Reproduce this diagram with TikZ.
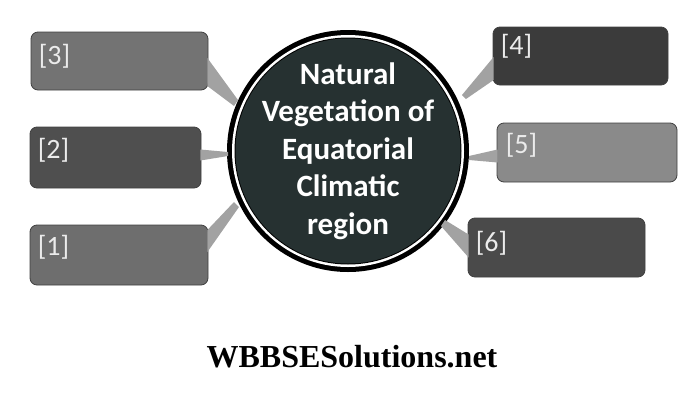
\documentclass[tikz,border=0pt]{standalone}
\usepackage{fontspec}
\setmainfont{Carlito}
\newfontfamily\wmfont{Liberation Serif}
\usetikzlibrary{calc}
\definecolor{ring}{HTML}{263131}
\definecolor{conn}{HTML}{A2A2A2}
\tikzset{
  box/.style={draw=black!75, line width=0.8pt, rounded corners=7pt, inner sep=0pt},
  lbl/.style={anchor=west, text=white!92!black, font=\fontsize{28}{32}\selectfont, inner sep=0pt},
}
\begin{document}
\begin{tikzpicture}[x=1pt,y=-1pt]
\useasboundingbox (0,0) rectangle (689,400);
% central circle
\coordinate (c) at (348,151);
\fill[black] (c) circle[radius=121pt];
\fill[white] (c) circle[radius=116pt];
\fill[black] (c) circle[radius=113.5pt];
\fill[ring] (c) circle[radius=112.5pt];
\node[inner sep=0pt, text=white, align=center,
      font=\bfseries\fontsize{31}{37.5}\selectfont] (hub) at (c)
  {Natural\\Vegetation of\\Equatorial\\Climatic\\region};
% boxes
\node[box, fill=black!55, minimum width=177pt, minimum height=58pt] (b3) at (119.5,61) {};
\node[box, fill=black!69, minimum width=171pt, minimum height=61pt] (b2) at (115.5,157.5) {};
\node[box, fill=black!57, minimum width=178pt, minimum height=60pt] (b1) at (119,255) {};
\node[box, fill=black!77, minimum width=175pt, minimum height=58pt] (b4) at (580.5,56) {};
\node[box, fill=black!46, minimum width=180pt, minimum height=59pt] (b5) at (587,152.5) {};
\node[box, fill=black!71, minimum width=177pt, minimum height=59pt] (b6) at (556.5,247.5) {};
% connector tips
\coordinate (t3) at (236,103);
\coordinate (t2) at (228,154);
\coordinate (t1) at (236,205);
\coordinate (t4) at (464,97);
\coordinate (t5) at (469,158);
\coordinate (t6) at (443,223);
% connectors
\fill[conn] ($(b3.east)+(-1,-3)$) -- ($(t3)+(2,-3)$) -- ($(t3)+(-2,3)$) -- ($(b3.east)+(-1,25)$) -- cycle;
\fill[conn] ($(b2.east)+(-1,-8)$) -- ($(t2)+(0,-2)$) -- ($(t2)+(0,2)$) -- ($(b2.east)+(-1,3)$) -- cycle;
\fill[conn] ($(b1.east)+(-1,-25)$) -- ($(t1)+(-2,-3)$) -- ($(t1)+(3,2)$) -- ($(b1.east)+(-1,-3)$) -- cycle;
\fill[conn] ($(b4.west)+(1,1)$) -- ($(t4)+(-2,-2)$) -- ($(t4)+(2,2)$) -- ($(b4.west)+(1,24)$) -- cycle;
\fill[conn] ($(b5.west)+(1,-3)$) -- ($(t5)+(0,-2)$) -- ($(t5)+(0,2)$) -- ($(b5.west)+(1,10)$) -- cycle;
\fill[conn] ($(b6.west)+(1,-13)$) -- ($(t6)+(2,-3)$) -- ($(t6)+(-2,3)$) -- ($(b6.west)+(1,10)$) -- cycle;
% labels
\node[lbl] (l3) at ($(b3.west)+(8,-5)$) {[3]};
\node[lbl] (l2) at ($(b2.west)+(8,-7)$) {[2]};
\node[lbl] (l1) at ($(b1.west)+(8,-8)$) {[1]};
\node[lbl] (l4) at ($(b4.west)+(8,-10)$) {[4]};
\node[lbl] (l5) at ($(b5.west)+(9,-7)$) {[5]};
\node[lbl] (l6) at ($(b6.west)+(8,-4)$) {[6]};
% watermark
\node[anchor=base, font=\wmfont\bfseries\fontsize{32}{36}\selectfont, inner sep=0pt] (wm) at (352,367) {WBBSESolutions.net};
\end{tikzpicture}
\end{document}
